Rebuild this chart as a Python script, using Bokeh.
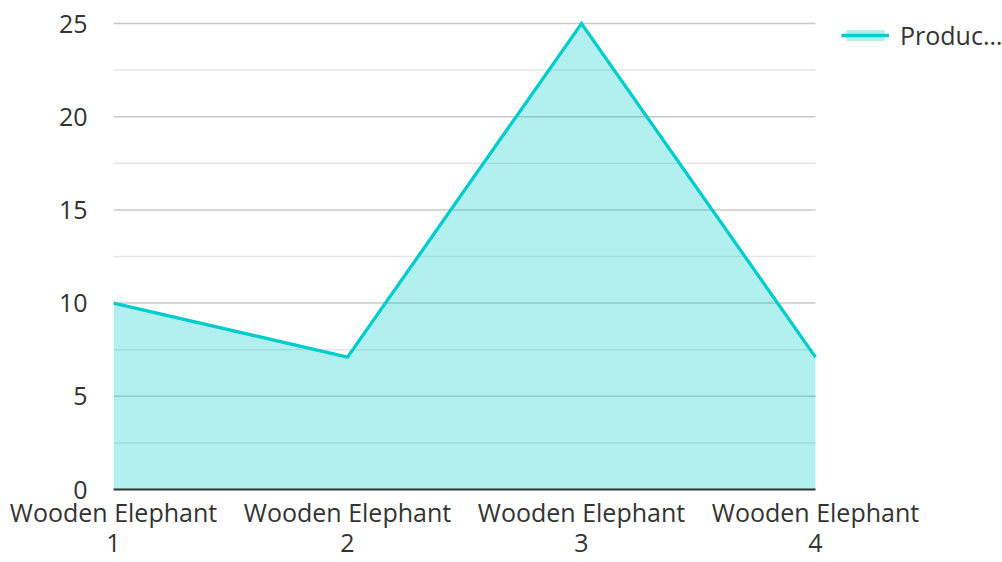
from bokeh.plotting import figure
from bokeh.models import Range1d, FixedTicker, Legend, LegendItem
from bokeh.embed import file_html
from bokeh.resources import INLINE

categories = ["Wooden Elephant\n1", "Wooden Elephant\n2", "Wooden Elephant\n3", "Wooden Elephant\n4"]
values = [10, 7.1, 25, 7.1]
series_name = "Produc\u2026"
y_ticks = [0, 5, 10, 15, 20, 25]
y_minor = [2.5, 7.5, 12.5, 17.5, 22.5]

FONT = "Open Sans"
TEXT = "#333333"
COLOR = "#00cccc"

xs = list(range(len(categories)))
n = len(categories) - 1

# frame spans to the right/top edges so the legend is not clipped;
# the data region (0..n, 0..25) occupies 702 x 466 px of it
X_END = n * 889 / 702
Y_END = 25 * 489 / 466

p = figure(width=1002, height=562, output_backend="svg", toolbar_location=None,
           x_range=Range1d(0, X_END), y_range=Range1d(0, Y_END),
           min_border_left=113, min_border_right=0, min_border_top=0, min_border_bottom=73)
p.outline_line_color = None
p.background_fill_color = "white"
p.border_fill_color = "white"

# horizontal grid limited to the data span
p.segment(x0=[0] * len(y_minor), x1=[n] * len(y_minor), y0=y_minor, y1=y_minor,
          line_color="#e6e6e6", line_width=1.5)
p.segment(x0=[0] * len(y_ticks), x1=[n] * len(y_ticks), y0=y_ticks, y1=y_ticks,
          line_color="#c8c8c8", line_width=1.5)

area = p.varea(x=xs, y1=[0] * len(values), y2=values, fill_color=COLOR, fill_alpha=0.3)
line = p.line(x=xs, y=values, line_color=COLOR, line_width=3.3, line_join="miter")

# axes
p.xaxis.ticker = FixedTicker(ticks=xs)
p.xaxis.bounds = (0, n)
p.xaxis.major_label_overrides = {i: c for i, c in zip(xs, categories)}
p.xaxis.major_tick_line_color = None
p.xaxis.minor_tick_line_color = None
p.xaxis.major_tick_out = 0
p.xaxis.minor_tick_out = 0
p.xaxis.axis_line_color = "#333333"
p.xaxis.axis_line_width = 2
p.xaxis.major_label_text_font = FONT
p.xaxis.major_label_text_font_size = "25px"
p.xaxis.major_label_text_line_height = 0.9
p.xaxis.major_label_text_color = TEXT
p.xaxis.major_label_standoff = 5

p.yaxis.ticker = FixedTicker(ticks=y_ticks, minor_ticks=y_minor)
p.yaxis.axis_line_color = None
p.yaxis.major_tick_line_color = None
p.yaxis.minor_tick_line_color = None
p.yaxis.major_tick_out = 0
p.yaxis.minor_tick_out = 0
p.yaxis.major_label_text_font = FONT
p.yaxis.major_label_text_font_size = "25px"
p.yaxis.major_label_text_color = TEXT
p.yaxis.major_label_standoff = 26

p.xgrid.grid_line_color = None
p.ygrid.grid_line_color = None

legend = Legend(items=[LegendItem(label=series_name, renderers=[area, line])],
                location=(728, 437), orientation="vertical",
                label_text_font=FONT, label_text_font_size="25px", label_text_color=TEXT,
                glyph_width=48, glyph_height=14, label_standoff=11,
                border_line_color=None, background_fill_alpha=0, padding=0, margin=0)
p.add_layout(legend, "center")

open("out.html", "w").write(file_html(p, INLINE))
